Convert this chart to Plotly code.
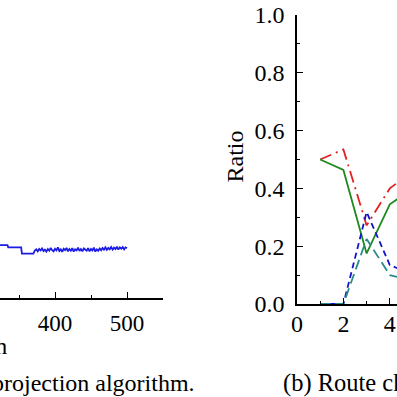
import plotly.graph_objects as go

W = H = 397
FONT = "Liberation Serif"

# ---- left panel data (iteration vs value) ----
iter_x = [320, 334, 335, 353, 354, 369, 370,
          372, 374, 376, 378, 380, 382, 384, 386, 388, 390, 392, 394, 396, 398,
          400, 402, 404, 406, 408, 410, 412, 414, 416, 418, 420, 422, 424, 426,
          428, 430, 432, 434, 436, 438, 440, 442, 444, 446, 448, 450, 452, 454,
          456, 458, 460, 462, 464, 466, 468, 470, 472, 474, 476, 478, 480, 482,
          484, 486, 488, 490, 492, 494, 496, 498, 500]
iter_y = [0.187, 0.187, 0.179, 0.179, 0.157, 0.157, 0.157,
          0.168, 0.172, 0.165, 0.173, 0.168, 0.175, 0.166, 0.171, 0.164, 0.173,
          0.167, 0.177, 0.169, 0.165, 0.174, 0.168, 0.179, 0.166, 0.172, 0.163,
          0.174, 0.169, 0.177, 0.165, 0.173, 0.167, 0.176, 0.164, 0.172, 0.168,
          0.178, 0.166, 0.173, 0.165, 0.175, 0.169, 0.167, 0.176, 0.165, 0.173,
          0.168, 0.178, 0.164, 0.172, 0.167, 0.175, 0.169, 0.177, 0.171, 0.179,
          0.170, 0.177, 0.172, 0.180, 0.171, 0.178, 0.173, 0.181, 0.171, 0.179,
          0.174, 0.180, 0.172, 0.179, 0.176]

# ---- right panel data (route choice ratio) ----
route_x = [1, 2, 3, 4, 5]
red_y = [0.50, 0.535, 0.272, 0.40, 0.46]
green_y = [0.50, 0.464, 0.175, 0.345, 0.40]
blue_y = [0.0, 0.0, 0.318, 0.135, 0.10]
teal_y = [0.0, 0.0, 0.225, 0.10, 0.08]

left_xticks = [400, 500]
left_xminor = [350, 450, 550]
right_xticks = [0, 2, 4]
right_xminor = [1, 3]
right_yticks = [0.0, 0.2, 0.4, 0.6, 0.8, 1.0]
right_yticktext = ["0.0", "0.2", "0.4", "0.6", "0.8", "1.0"]

fig = go.Figure()
fig.add_trace(go.Scatter(x=iter_x, y=iter_y, mode="lines",
                         line=dict(color="#1c1ce6", width=1.8),
                         xaxis="x", yaxis="y", showlegend=False))
fig.add_trace(go.Scatter(x=route_x, y=red_y, mode="lines",
                         line=dict(color="#e02222", width=1.8, dash="12px,5px,2px,5px"),
                         xaxis="x2", yaxis="y2", showlegend=False))
fig.add_trace(go.Scatter(x=route_x, y=green_y, mode="lines",
                         line=dict(color="#1e8a1e", width=1.8),
                         xaxis="x2", yaxis="y2", showlegend=False))
fig.add_trace(go.Scatter(x=route_x, y=blue_y, mode="lines",
                         line=dict(color="#1414c8", width=1.8, dash="6px,4px"),
                         xaxis="x2", yaxis="y2", showlegend=False))
fig.add_trace(go.Scatter(x=route_x, y=teal_y, mode="lines",
                         line=dict(color="#2a8a8a", width=1.8, dash="10px,5px"),
                         xaxis="x2", yaxis="y2", showlegend=False))

axis_common = dict(showline=True, linecolor="black", linewidth=1.6, showgrid=False,
                   zeroline=False, ticks="inside", tickcolor="black", ticklen=6,
                   tickwidth=1.4, mirror=False, automargin=False)

fig.update_layout(
    width=W, height=H, autosize=False,
    margin=dict(l=0, r=0, t=0, b=0, pad=0),
    paper_bgcolor="white", plot_bgcolor="white",
    font=dict(family=FONT, color="black"),
    xaxis=dict(domain=[0, 163 / W], range=[323.6, 550], anchor="y",
               tickvals=left_xticks, tickfont=dict(size=23), ticklabelstandoff=4,
               minor=dict(tickvals=left_xminor, ticks="inside", ticklen=3, tickcolor="black"),
               **axis_common),
    yaxis=dict(domain=[1 - 298 / H, 1 - 15 / H], range=[0, 1], anchor="x",
               visible=False, automargin=False),
    xaxis2=dict(domain=[297 / W, 1], range=[0, 4.31], anchor="y2",
                tickvals=right_xticks, tickfont=dict(size=24), ticklabelstandoff=-3,
                minor=dict(tickvals=right_xminor, ticks="inside", ticklen=3, tickcolor="black"),
                **axis_common),
    yaxis2=dict(domain=[1 - 304 / H, 1 - 15 / H], range=[0, 1], anchor="x2",
                tickvals=right_yticks, ticktext=right_yticktext, tickfont=dict(size=24),
                ticklabelstandoff=6,
                minor=dict(dtick=0.1, tick0=0, ticks="inside", ticklen=3, tickcolor="black"),
                **axis_common),
)

annotations = [
    dict(text="300", x=-20 / W, y=1 - 322.5 / H, xanchor="center", yanchor="middle",
         font=dict(size=23)),
    dict(text="Iteration", x=8.5 / W, y=1 - 346 / H, xanchor="right", yanchor="middle",
         font=dict(size=24)),
    dict(text="projection algorithm.", x=197 / W, y=1 - 383 / H, xanchor="right",
         yanchor="middle", font=dict(size=24)),
    dict(text="Ratio", x=234.5 / W, y=1 - 156 / H, xanchor="center", yanchor="middle",
         textangle=-90, font=dict(size=24)),
    dict(text="(b) Route choice ratio", x=281 / W, y=1 - 383 / H, xanchor="left",
         yanchor="middle", font=dict(size=24.5)),
]
for a in annotations:
    a.update(xref="paper", yref="paper", showarrow=False)
fig.update_layout(annotations=annotations)

fig.write_html("out.html")
